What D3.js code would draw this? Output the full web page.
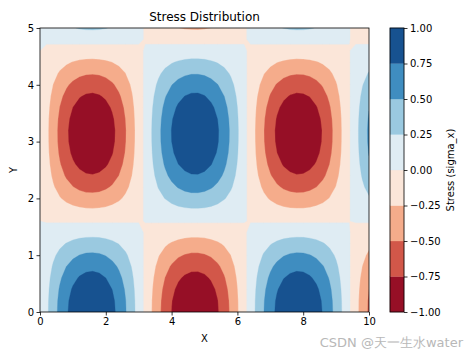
<!DOCTYPE html>
<html><head><meta charset="utf-8">
<script src="https://cdn.jsdelivr.net/npm/d3@7"></script>
<style>body{margin:0;background:#fff}svg{display:block}text{font-family:"DejaVu Sans",sans-serif}</style>
</head><body>
<svg id="c" width="474" height="355"></svg>
<script>
// ---- data ----
// Sampled x positions: 0..10 step 0.2, and the sin-like x-profile of the stress field
const xStart = 0, xStep = 0.2;
const xProfile = [0.0000,0.1987,0.3894,0.5646,0.7174,0.8415,0.9320,0.9854,0.9996,0.9738,
  0.9093,0.8085,0.6755,0.5155,0.3350,0.1411,-0.0584,-0.2555,-0.4425,-0.6119,
  -0.7568,-0.8716,-0.9516,-0.9937,-0.9962,-0.9589,-0.8835,-0.7728,-0.6313,-0.4646,
  -0.2794,-0.0831,0.1165,0.3115,0.4941,0.6570,0.7937,0.8987,0.9679,0.9985,
  0.9894,0.9407,0.8546,0.7344,0.5849,0.4121,0.2229,0.0248,-0.1743,-0.3665,-0.5440];
// Sampled y positions: 0..5 step 0.2, and the cos-like y-profile
const yStart = 0, yStep = 0.2;
const yProfile = [1.0000,0.9801,0.9211,0.8253,0.6967,0.5403,0.3624,0.1700,-0.0292,-0.2272,
  -0.4161,-0.5885,-0.7374,-0.8569,-0.9422,-0.9900,-0.9983,-0.9668,-0.8968,-0.7910,
  -0.6536,-0.4903,-0.3073,-0.1122,0.0875,0.2837];
const levels = [-1.00,-0.75,-0.50,-0.25,0.00,0.25,0.50,0.75,1.00];
const xTicks = [0,2,4,6,8,10];
const yTicks = [0,1,2,3,4,5];
const levelLabels = ["−1.00","−0.75","−0.50","−0.25","0.00","0.25","0.50","0.75","1.00"];
const titleText = "Stress Distribution";
const xLabel = "X", yLabel = "Y", cbLabel = "Stress (sigma_x)";
const watermark = "CSDN @天一生水water";

// ---- style ----
const bandColors = ["#960f26","#d25749","#f5ac8b","#fbe6d9","#dfecf3","#9ac9e0","#3f8dc0","#175290"];
const W=474,H=355, L=40, R=369, T=28, B=312;
const svg = d3.select("#c");

const x = d3.scaleLinear().domain([0,10]).range([L,R]);
const y = d3.scaleLinear().domain([0,5]).range([B,T]);

// grid built from profiles (table for d3.contours)
const nx = xProfile.length, ny = yProfile.length;
const values = new Array(nx*ny);
for (let j=0;j<ny;j++) for (let i=0;i<nx;i++) values[j*nx+i] = xProfile[i]*yProfile[j];

const contours = d3.contours().size([nx,ny]).thresholds(levels.slice(0,-1))(values);
const proj = d3.geoTransform({point:function(gx,gy){
  this.stream.point(x(xStart+(gx-0.5)*xStep), y(yStart+(gy-0.5)*yStep));
}});
const path = d3.geoPath(proj);

svg.append("clipPath").attr("id","clip").append("rect")
  .attr("x",L).attr("y",T).attr("width",R-L).attr("height",B-T);
const g = svg.append("g").attr("clip-path","url(#clip)");
g.selectAll("path").data(contours).join("path")
  .attr("d",path).attr("fill",(d,i)=>bandColors[i]).attr("stroke",(d,i)=>bandColors[i]).attr("stroke-width",0.3);

// frame
svg.append("rect").attr("x",L).attr("y",T).attr("width",R-L).attr("height",B-T)
  .attr("fill","none").attr("stroke","#000").attr("stroke-width",0.8);

// axes
const ax = svg.append("g").attr("transform",`translate(0,${B})`)
  .call(d3.axisBottom(x).tickValues(xTicks).tickSize(3.5).tickPadding(2.5).tickFormat(d3.format("d")));
const ay = svg.append("g").attr("transform",`translate(${L},0)`)
  .call(d3.axisLeft(y).tickValues(yTicks).tickSize(3.5).tickPadding(2.5).tickFormat(d3.format("d")));
[ax,ay].forEach(a=>{a.select(".domain").remove();
  a.selectAll("text").attr("font-size",10).attr("font-family","DejaVu Sans").attr("fill","#000");
  a.selectAll("line").attr("stroke","#000").attr("stroke-width",0.8);});

svg.append("text").attr("x",(L+R)/2).attr("y",21).attr("text-anchor","middle")
  .attr("font-size",12).text(titleText);
svg.append("text").attr("x",(L+R)/2).attr("y",342).attr("text-anchor","middle")
  .attr("font-size",10).text(xLabel);
svg.append("text").attr("transform",`translate(17,${(T+B)/2}) rotate(-90)`).attr("text-anchor","middle")
  .attr("font-size",10).text(yLabel);

// colorbar
const CL=390, CR=404;
const cy = d3.scaleLinear().domain([-1,1]).range([B,T]);
const cb = svg.append("g");
cb.selectAll("rect").data(d3.range(levels.length-1)).join("rect")
  .attr("x",CL).attr("width",CR-CL)
  .attr("y",i=>cy(levels[i+1])).attr("height",i=>cy(levels[i])-cy(levels[i+1]))
  .attr("fill",i=>bandColors[i]).attr("stroke",i=>bandColors[i]).attr("stroke-width",0.3);
cb.append("rect").attr("x",CL).attr("y",T).attr("width",CR-CL).attr("height",B-T)
  .attr("fill","none").attr("stroke","#000").attr("stroke-width",0.8);
const ac = svg.append("g").attr("transform",`translate(${CR},0)`)
  .call(d3.axisRight(cy).tickValues(levels).tickSize(3.5).tickPadding(2.5).tickFormat((d,i)=>levelLabels[i]));
ac.select(".domain").remove();
ac.selectAll("text").attr("font-size",10).attr("font-family","DejaVu Sans").attr("fill","#000");
ac.selectAll("line").attr("stroke","#000").attr("stroke-width",0.8);
svg.append("text").attr("transform",`translate(454,${(T+B)/2}) rotate(-90)`).attr("text-anchor","middle")
  .attr("font-size",10).text(cbLabel);

// watermark
svg.append("text").attr("x",463).attr("y",347).attr("text-anchor","end")
  .attr("font-family","'Noto Sans CJK SC',sans-serif").attr("font-size",13).attr("fill","#b8b8b8")
  .text(watermark);
</script>
</body></html>
